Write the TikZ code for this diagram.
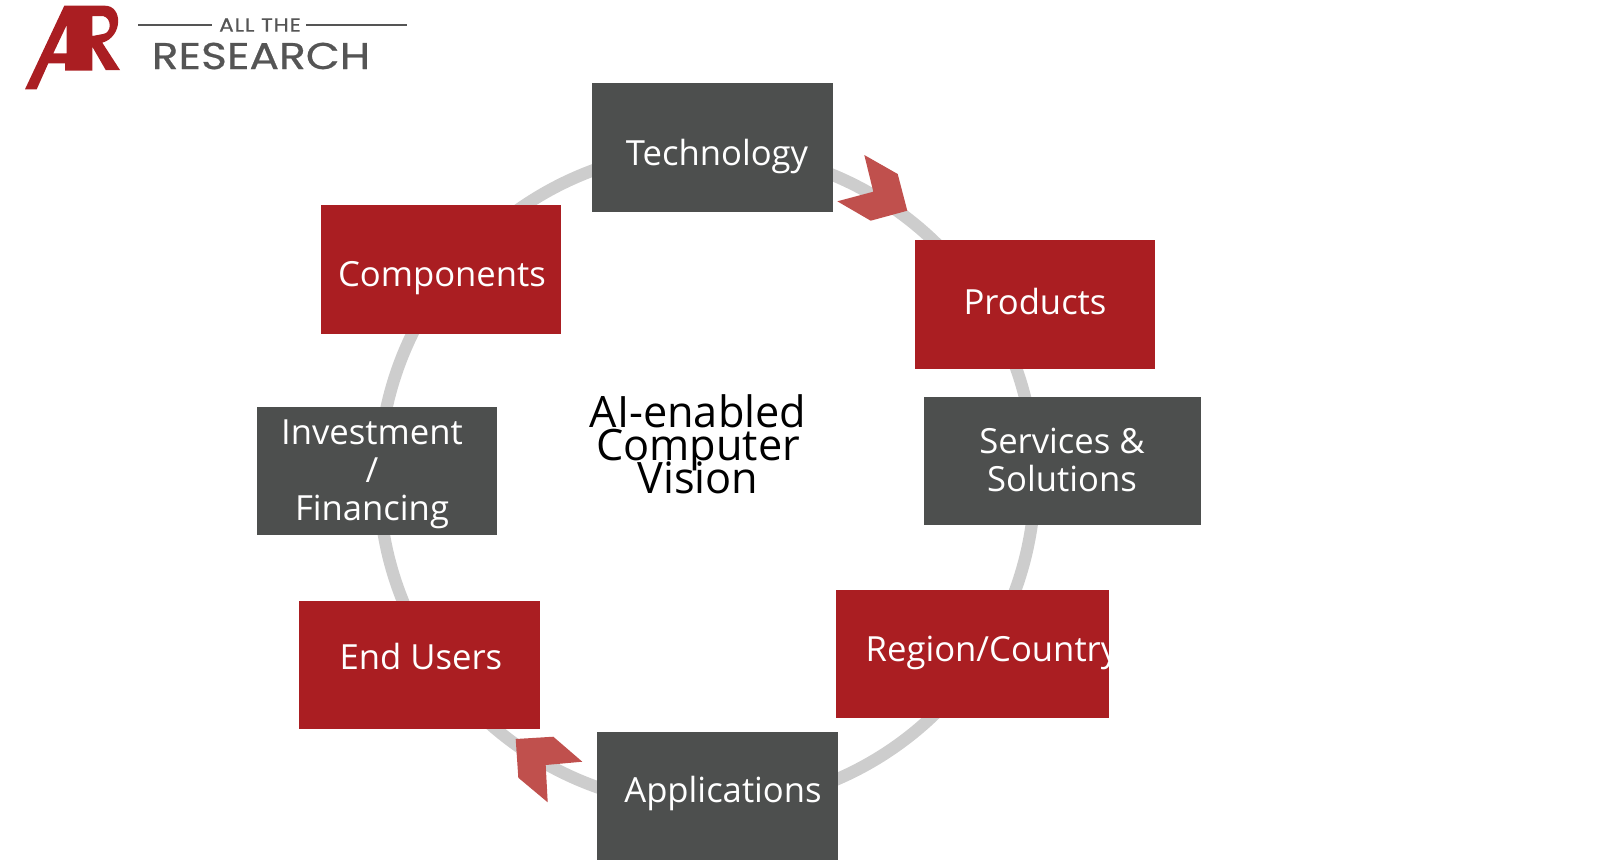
\documentclass[tikz,border=0pt]{standalone}
\usepackage{fontspec}
\setmainfont{Open Sans}
\newfontfamily\logofont[FakeStretch=1.18, FakeBold=0.6]{Poppins}
\newfontfamily\logosmallfont[FakeStretch=1.14, FakeBold=0.8, LetterSpace=5]{Poppins}
\definecolor{arred}{RGB}{170,30,34}
\definecolor{argrey}{RGB}{77,79,78}
\definecolor{arring}{RGB}{205,205,205}
\definecolor{archevron}{RGB}{192,80,77}
\definecolor{arlogotext}{RGB}{85,85,85}
\tikzset{
  redbox/.style={rectangle, fill=arred, inner sep=0pt, minimum width=2.4cm, minimum height=1.28cm},
  greybox/.style={rectangle, fill=argrey, inner sep=0pt, minimum width=2.4cm, minimum height=1.28cm},
  boxtext/.style={text=white, align=center, inner sep=0pt, font=\fontsize{9.85}{10.8}\selectfont},
  hubtext/.style={text=black, align=center, inner sep=0pt, font=\fontsize{12.3}{9.4}\selectfont,
    execute at begin node={\setlength{\lineskiplimit}{-20pt}}},
  chevron/.style={fill=archevron},
}
\begin{document}
\begin{tikzpicture}[x=0.01cm, y=-0.01cm]
  \useasboundingbox (0,0) rectangle (1600,860);
  \draw[arring, line width=3.5pt] (707,478) circle (328);
  % boxes
  \node[greybox] (technology) at (712.5,147.5) {};
  \node[redbox] (products) at (1035,304.5) {};
  \node[greybox, minimum width=2.77cm] (services) at (1062.5,461) {};
  \node[redbox, minimum width=2.73cm] (region) at (972.5,654) {};
  \node[greybox] (applications) at (717.5,796) {};
  \node[redbox] (endusers) at (419.5,665) {};
  \node[greybox] (investment) at (377,471) {};
  \node[redbox] (components) at (441,269.5) {};
  % labels
  \node[boxtext] (technologytext) at (717,156) {Technology};
  \node[boxtext] (productstext) at (1035,301) {Products};
  \node[boxtext] (servicestext) at (1062,460) {Services \&\\Solutions};
  \node[boxtext] (regiontext) at (992,653) {Region/Country};
  \node[boxtext] (applicationstext) at (723,793) {Applications};
  \node[boxtext] (enduserstext) at (421,656) {End Users};
  \node[boxtext] (investmenttext) at (372,474) {Investment\\/\\Financing};
  \node[boxtext] (componentstext) at (442,278) {Components};
  \node[hubtext] (hub) at (698,444) {AI-enabled\\Computer\\Vision};
  % arrows on the ring
  \fill[chevron] (864.3,155) -- (897.7,174) -- (907.3,210.7) -- (870.7,220.7) -- (837.3,201.3) -- (873.3,191.7) -- cycle;
  \fill[chevron] (515.7,739) -- (553.3,736.7) -- (582.3,761.7) -- (545.7,765) -- (547.7,802.3) -- (518.3,777.7) -- cycle;
  % logo
  \fill[arred, even odd rule] (25,89.3) -- (64.3,5.7) -- (105,5.7) .. controls (123,5.7) and (123,36.7) .. (102.3,42.7)
    -- (120,70) -- (105.7,70) -- (92.3,46.7) -- (92.3,70.7) -- (65,70.7) -- (65,63.3) -- (48.3,63.3) -- (36.7,89.3) -- cycle
    (53.3,53.3) -- (66.7,25) -- (66.7,53.3) -- cycle
    (92.3,16) -- (103,16) .. controls (112,18) and (112,33) .. (103,34) -- (92.3,36) -- cycle;
  \coordinate (ruleaw) at (138,25);
  \coordinate (ruleae) at (212,25);
  \coordinate (rulebw) at (306,25);
  \coordinate (rulebe) at (407,25);
  \draw[arlogotext, line width=0.4pt] (ruleaw) -- (ruleae) (rulebw) -- (rulebe);
  \node[text=arlogotext, inner sep=0pt, font=\logosmallfont\fontsize{5.4}{6}\selectfont] (allthe) at (260,25) {ALL THE};
  \node[text=arlogotext, inner sep=0pt, font=\logofont\fontsize{10.6}{12}\selectfont] (research) at (261,56) {RESEARCH};
\end{tikzpicture}
\end{document}
